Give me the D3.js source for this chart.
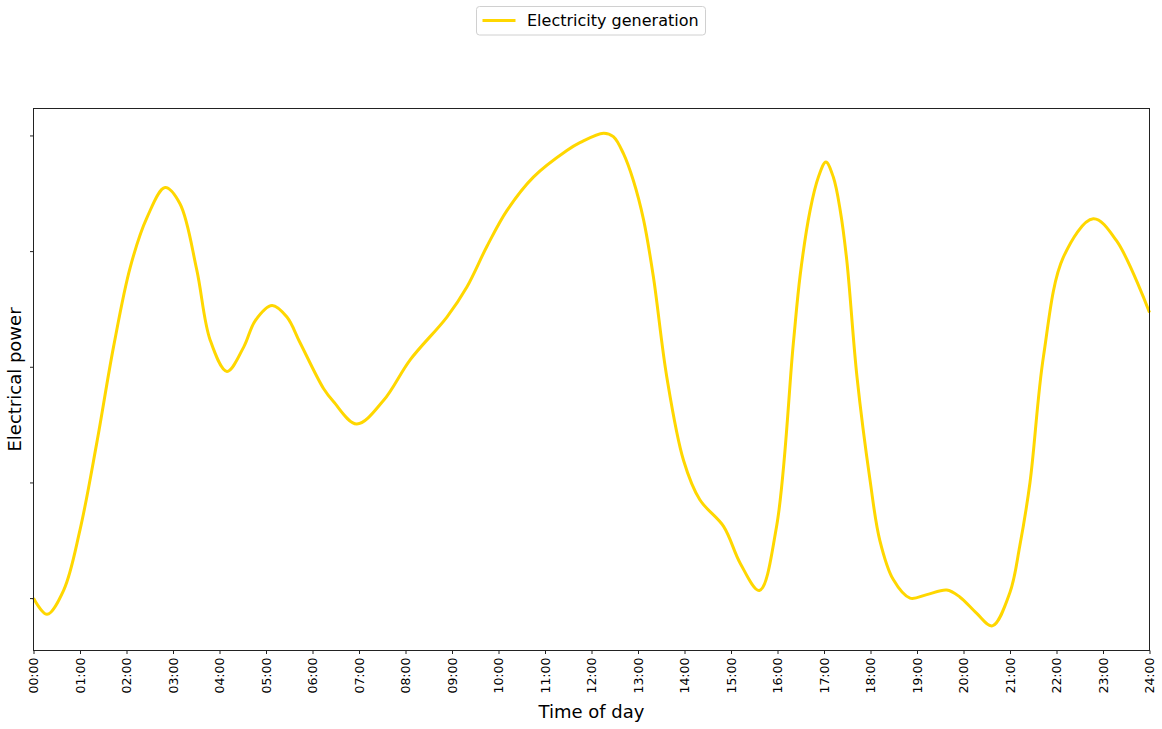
<!DOCTYPE html>
<html>
<head>
<meta charset="utf-8">
<script src="https://cdn.jsdelivr.net/npm/d3@7"></script>
<style>
  body { margin: 0; background: #fff; }
  svg { display: block; font-family: "DejaVu Sans", sans-serif; }
  .axis path, .axis line { stroke: #222; }
  .axis text { fill: #000; }
  .line { fill: none; stroke: #FFD700; stroke-width: 3px; }
</style>
</head>
<body>
<svg id="chart" width="1162" height="729"></svg>
<script>
// hour of day and power readings (arbitrary units, ticks unlabeled)
var hours = [0, 0.29, 0.65, 1.0, 1.36, 1.72, 2.08, 2.44, 2.83, 3.15, 3.51, 3.8, 4.16, 4.52, 4.77, 5.13,
  5.45, 5.73, 6.24, 6.45, 6.95, 7.53, 8.1, 8.89, 9.32, 9.75, 10.18, 10.75, 11.47, 11.76, 12.26, 12.47,
  12.69, 12.9, 13.12, 13.33, 13.62, 13.98, 14.33, 14.84, 15.2, 15.61, 15.98, 16.34, 16.49, 16.7, 16.88,
  17.04, 17.2, 17.35, 17.49, 17.71, 17.99, 18.2, 18.49, 18.85, 19.21, 19.64, 19.92, 20.28, 20.62, 21.0,
  21.21, 21.43, 21.72, 22.15, 22.79, 23.29, 24.0];
var power = [0.0, -0.14, 0.07, 0.59, 1.34, 2.17, 2.86, 3.29, 3.55, 3.41, 2.84, 2.23, 1.96, 2.17, 2.4, 2.53,
  2.43, 2.21, 1.81, 1.7, 1.505, 1.71, 2.06, 2.43, 2.69, 3.04, 3.35, 3.64, 3.87, 3.94, 4.02, 3.99,
  3.84, 3.61, 3.27, 2.78, 1.91, 1.19, 0.85, 0.62, 0.3, 0.066, 0.62, 2.2, 2.8, 3.35, 3.64,
  3.77, 3.64, 3.35, 2.92, 1.91, 1.02, 0.5, 0.16, 0.0, 0.03, 0.07, 0.01, -0.13, -0.24, 0.05,
  0.45, 1.0, 2.09, 2.95, 3.28, 3.09, 2.47];
var yTicks = [0, 1, 2, 3, 4];
var xTickLabels = d3.range(0, 25).map(function(h) { return (h < 10 ? "0" : "") + h + ":00"; });
var seriesName = "Electricity generation";

var svg = d3.select("#chart");
var margin = {top: 108.5, right: 12.5, bottom: 78.5, left: 33.5};
var width = 1162 - margin.left - margin.right;
var height = 729 - margin.top - margin.bottom;

var data = hours.map(function(h, i) { return {h: h, v: power[i]}; });

var ext = d3.extent(power);
var pad = (ext[1] - ext[0]) * 0.05;

var x = d3.scaleLinear().domain([0, 24]).range([0, width]);
var y = d3.scaleLinear().domain([ext[0] - pad, ext[1] + pad]).range([height, 0]);

var g = svg.append("g").attr("transform", "translate(" + margin.left + "," + margin.top + ")");

var line = d3.line()
    .x(function(d) { return x(d.h); })
    .y(function(d) { return y(d.v); })
    .curve(d3.curveCatmullRom.alpha(0.5));

g.append("path").datum(data).attr("class", "line").attr("d", line);

// x axis
var xAxis = g.append("g")
    .attr("class", "axis")
    .attr("transform", "translate(0," + height + ")")
    .call(d3.axisBottom(x)
      .tickValues(d3.range(0, 25))
      .tickFormat(function(d) { return xTickLabels[d]; })
      .tickSize(3.5)
      .tickPadding(3.5));
xAxis.select(".domain").remove();
xAxis.selectAll("text")
    .attr("font-size", "12.5px")
    .attr("font-family", "DejaVu Sans, sans-serif")
    .attr("transform", "rotate(-90)")
    .attr("text-anchor", "end")
    .attr("x", -7)
    .attr("y", 0)
    .attr("dy", "0.35em");

// y axis (ticks only)
var yAxis = g.append("g")
    .attr("class", "axis")
    .call(d3.axisLeft(y).tickValues(yTicks).tickFormat("").tickSize(3.5));
yAxis.select(".domain").remove();

// frame
g.append("rect")
    .attr("width", width)
    .attr("height", height)
    .attr("fill", "none")
    .attr("stroke", "#222")
    .attr("stroke-width", 1);

// axis labels
svg.append("text")
    .attr("x", margin.left + width / 2)
    .attr("y", 718)
    .attr("text-anchor", "middle")
    .attr("font-size", "18px")
    .text("Time of day");

svg.append("text")
    .attr("transform", "translate(21," + (margin.top + height / 2) + ") rotate(-90)")
    .attr("text-anchor", "middle")
    .attr("font-size", "18px")
    .text("Electrical power");

// legend
var legend = svg.append("g").attr("transform", "translate(476.5,6.5)");
legend.append("rect")
    .attr("width", 229)
    .attr("height", 28.5)
    .attr("rx", 3)
    .attr("fill", "#fff")
    .attr("stroke", "#d0d0d0");
legend.append("line")
    .attr("x1", 6).attr("x2", 39)
    .attr("y1", 14).attr("y2", 14)
    .attr("stroke", "#FFD700")
    .attr("stroke-width", 3);
legend.append("text")
    .attr("x", 50.5)
    .attr("y", 19.5)
    .attr("font-size", "16px")
    .text(seriesName);
</script>
</body>
</html>
